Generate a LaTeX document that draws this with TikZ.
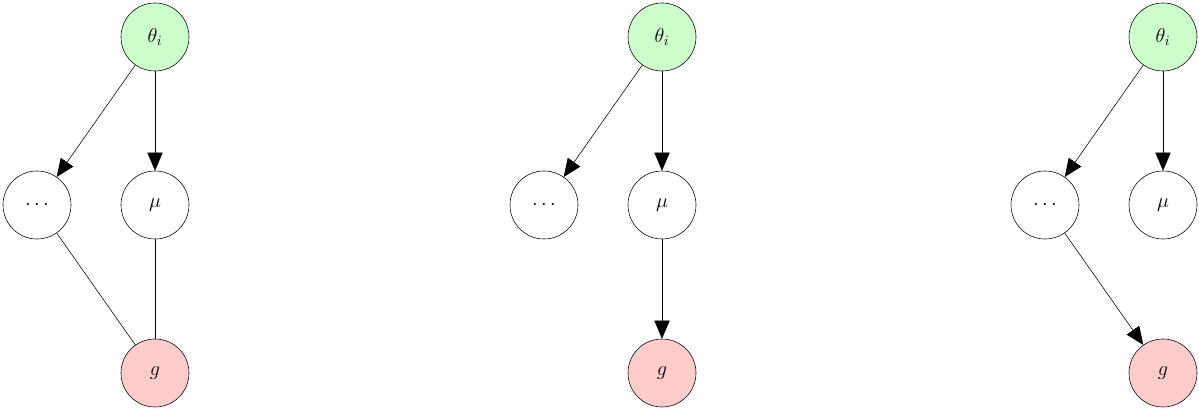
\documentclass[tikz,border=0pt]{standalone}
\usetikzlibrary{arrows.meta}
\begin{document}
\begin{tikzpicture}[x=0.025cm,y=-0.025cm,
  nd/.style={circle,draw,minimum size=1.7cm,inner sep=0pt,font=\Large},
  th/.style={nd,fill={rgb,255:red,204;green,255;blue,204}},
  gg/.style={nd,fill={rgb,255:red,255;green,204;blue,204}},
  arr/.style={-{Triangle[length=0.45cm,width=0.38cm]}}]
\useasboundingbox (0,0) rectangle (1199,411);
\foreach \n/\x in {a/155,b/662,c/1163}{
  \node[th] (t\n) at (\x,37) {$\theta_i$};
  \node[nd] (d\n) at (\x-118,205) {$\cdots$};
  \node[nd] (m\n) at (\x,205) {$\mu$};
  \node[gg] (g\n) at (\x,373) {$g$};
  \draw[arr] (t\n) -- (d\n);
  \draw[arr] (t\n) -- (m\n);
}
\draw (da) -- (ga);
\draw (ma) -- (ga);
\draw[arr] (mb) -- (gb);
\draw[arr] (dc) -- (gc);
\end{tikzpicture}
\end{document}
